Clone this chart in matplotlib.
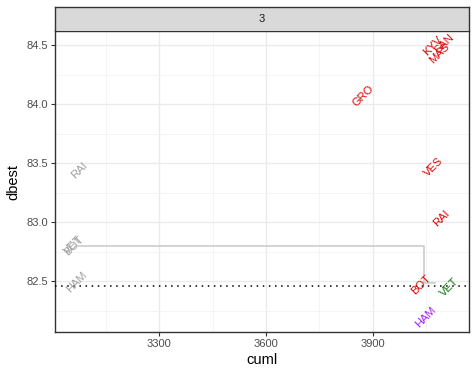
import matplotlib
matplotlib.use("Agg")
import matplotlib.pyplot as plt
from matplotlib.ticker import MultipleLocator

plt.rcParams['font.family'] = ['Liberation Sans', 'DejaVu Sans']

# grey (earlier) labels
grey_labels = ["RAI", "BOT", "VET", "HAM"]
grey_x = [3077, 3060, 3060, 3069]
grey_y = [83.44, 82.80, 82.80, 82.49]

# current labels
cur_labels = ["KYV", "SAN", "MAS", "GRO", "VES", "RAI", "BOT", "VET", "HAM"]
cur_x = [4070, 4101, 4089, 3873, 4073, 4095, 4036, 4117, 4050]
cur_y = [84.49, 84.51, 84.43, 84.07, 83.47, 83.03, 82.47, 82.45, 82.19]
cur_col = ["#E00000"] * 7 + ["#137A13", "#A020F0"]

# step path
path_x = [3071, 4044, 4075]
path_y = [82.80, 82.48, 82.48]

ref_y = 82.458

fig = plt.figure(figsize=(4.77, 3.72), dpi=100)
ax = fig.add_axes([55/477, 1-332/372, (469-55)/477, (332-31)/372])

ax.set_xlim(3007, 4171)
ax.set_ylim(82.068, 84.62)
ax.xaxis.set_minor_locator(MultipleLocator(150))
ax.yaxis.set_minor_locator(MultipleLocator(0.25))
ax.set_xticks([3300, 3600, 3900])
ax.set_xticklabels(["3300", "3600", "3900"])
ax.set_yticks([82.5, 83.0, 83.5, 84.0, 84.5])
ax.set_yticklabels(["82.5", "83.0", "83.5", "84.0", "84.5"])

ax.grid(which='major', color='#EBEBEB', lw=1.0, zorder=0)
ax.grid(which='minor', color='#F2F2F2', lw=0.6, zorder=0)
ax.set_axisbelow(True)
ax.tick_params(which='minor', length=0)
ax.tick_params(which='major', length=3, width=0.8, color='#333333',
               labelsize=8, labelcolor='#4D4D4D', pad=2)
for s in ax.spines.values():
    s.set_color('#333333')
    s.set_linewidth(1.0)

ax.step(path_x, path_y, where='post', color='#CCCCCC', lw=1.2, zorder=2)
ax.axhline(ref_y, color='black', ls=(0, (1, 3)), lw=1.1, zorder=3)

for t, x, y in zip(grey_labels, grey_x, grey_y):
    ax.text(x, y, t, color='#A0A0A0', fontsize=8, rotation=45,
            ha='center', va='center', rotation_mode='anchor', zorder=4)
for t, x, y, c in zip(cur_labels, cur_x, cur_y, cur_col):
    ax.text(x, y, t, color=c, fontsize=8, rotation=45,
            ha='center', va='center', rotation_mode='anchor', zorder=5)

ax.set_xlabel("cuml", fontsize=10.5, labelpad=3)
ax.set_ylabel("dbest", fontsize=10.5, labelpad=4)

# facet strip
sax = fig.add_axes([55/477, 1-30/372, (469-55)/477, 23/372])
sax.set_facecolor('#D9D9D9')
sax.set_xticks([]); sax.set_yticks([])
for s in sax.spines.values():
    s.set_color('#333333')
    s.set_linewidth(1.0)
sax.spines['bottom'].set_visible(False)
sax.text(0.5, 0.5, "3", ha='center', va='center', fontsize=8, color='#1A1A1A',
         transform=sax.transAxes)

fig.savefig("out.png", dpi=100)
